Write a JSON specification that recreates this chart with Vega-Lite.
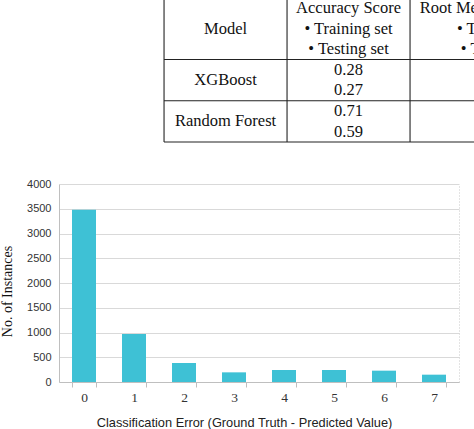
{
  "$schema": "https://vega.github.io/schema/vega-lite/v6.json",
  "padding": 0,
  "spacing": 35,
  "background": "white",
  "config": {"view": {"stroke": null}},
  "vconcat": [
    {
      "width": 415,
      "height": 143,
      "layer": [
        {
          "data": {
            "values": [
              {"x": 0, "x2": 0, "y": -0.4, "y2": 6.5},
              {"x": 1, "x2": 1, "y": -0.4, "y2": 6.5},
              {"x": 2, "x2": 2, "y": -0.4, "y2": 6.5},
              {"x": 0, "x2": 3.5, "y": 2.5, "y2": 2.5},
              {"x": 0, "x2": 3.5, "y": 4.5, "y2": 4.5},
              {"x": 0, "x2": 3.5, "y": 6.5, "y2": 6.5}
            ]
          },
          "mark": {"type": "rule", "color": "#222222", "strokeWidth": 1.1, "clip": true},
          "encoding": {
            "x": {"field": "x", "type": "quantitative", "scale": {"domain": [-0.854, 2.52], "nice": false, "zero": false}, "axis": null},
            "x2": {"field": "x2"},
            "y": {"field": "y", "type": "quantitative", "scale": {"domain": [-0.39, 6.55], "nice": false, "zero": false, "reverse": true}, "axis": null},
            "y2": {"field": "y2"}
          }
        },
        {
          "data": {
            "values": [
              {"col": 0.5, "line": 1, "text": "Model"},
              {"col": 1.5, "line": 0, "text": "Accuracy Score"},
              {"col": 1.5, "line": 1, "text": "• Training set"},
              {"col": 1.5, "line": 2, "text": "• Testing set"},
              {"col": 2.74, "line": 0, "text": "Root Mean Square Error"},
              {"col": 2.74, "line": 1, "text": "• Training set"},
              {"col": 2.74, "line": 2, "text": "• Testing set"},
              {"col": 0.5, "line": 3.5, "text": "XGBoost"},
              {"col": 1.5, "line": 3, "text": "0.28"},
              {"col": 1.5, "line": 4, "text": "0.27"},
              {"col": 0.5, "line": 5.5, "text": "Random Forest"},
              {"col": 1.5, "line": 5, "text": "0.71"},
              {"col": 1.5, "line": 6, "text": "0.59"}
            ]
          },
          "mark": {"type": "text", "font": "Liberation Serif", "fontSize": 16.5, "color": "#111111", "baseline": "middle", "align": "center", "clip": true},
          "encoding": {
            "x": {"field": "col", "type": "quantitative", "scale": {"domain": [-0.854, 2.52], "nice": false, "zero": false}, "axis": null},
            "y": {"field": "line", "type": "quantitative", "scale": {"domain": [-0.39, 6.55], "nice": false, "zero": false, "reverse": true}, "axis": null},
            "text": {"field": "text"}
          }
        }
      ]
    },
    {
      "width": 400,
      "height": 198,
      "data": {
        "values": [
          {"error": "0", "count": 3480},
          {"error": "1", "count": 970},
          {"error": "2", "count": 384},
          {"error": "3", "count": 195},
          {"error": "4", "count": 242},
          {"error": "5", "count": 242},
          {"error": "6", "count": 229},
          {"error": "7", "count": 148}
        ]
      },
      "encoding": {
        "x": {
          "field": "error",
          "type": "ordinal",
          "scale": {"paddingInner": 0.52, "paddingOuter": 0.26},
          "axis": {
            "title": "Classification Error (Ground Truth - Predicted Value)",
            "labelAngle": 0,
            "labelFont": "Liberation Serif",
            "labelFontSize": 13.5,
            "labelColor": "#333333",
            "labelPadding": 3,
            "tickBand": "extent",
            "tickSize": 5,
            "tickColor": "#bfbfbf",
            "domainColor": "#bfbfbf",
            "titleFont": "Liberation Sans",
            "titleFontSize": 12.8,
            "titleFontWeight": "normal",
            "titleColor": "#222222",
            "titlePadding": 13,
            "titleX": 185
          }
        }
      },
      "layer": [
        {
          "mark": {"type": "bar", "color": "#3ec1d5"},
          "encoding": {
            "y": {
              "field": "count",
              "type": "quantitative",
              "scale": {"domain": [0, 4000], "nice": false},
              "axis": {
                "title": "No. of Instances",
                "values": [0, 500, 1000, 1500, 2000, 2500, 3000, 3500, 4000],
                "format": "d",
                "ticks": false,
                "labelFont": "Liberation Sans",
                "labelFontSize": 11,
                "labelColor": "#333333",
                "labelPadding": 8,
                "domainColor": "#bfbfbf",
                "gridColor": "#d9d9d9",
                "titleFont": "Liberation Serif",
                "titleFontSize": 14,
                "titleFontWeight": "normal",
                "titleColor": "#111111",
                "titlePadding": 12,
                "titleY": 107
              }
            }
          }
        },
        {
          "mark": {"type": "bar", "opacity": 0},
          "encoding": {
            "y": {
              "field": "count",
              "type": "quantitative",
              "scale": {"domain": [0, 4000], "nice": false},
              "axis": {
                "orient": "right",
                "title": null,
                "labels": false,
                "ticks": false,
                "grid": false,
                "domainColor": "#c8c8c8",
                "domainDash": [1, 2]
              }
            }
          }
        }
      ],
      "resolve": {"axis": {"y": "independent"}}
    }
  ]
}
